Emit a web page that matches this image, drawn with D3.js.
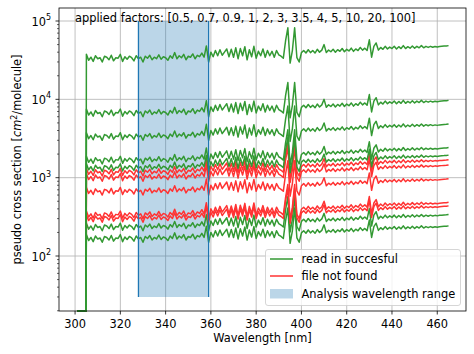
<!DOCTYPE html>
<html><head><meta charset="utf-8">
<script src="https://cdn.jsdelivr.net/npm/d3@7/dist/d3.min.js"></script>
<style>body{margin:0;background:#fff}svg{display:block}text{font-family:"DejaVu Sans",sans-serif}</style>
</head><body>
<script>
// ---- data ----
const factors = [0.5, 0.7, 0.9, 1, 2, 3, 3.5, 4, 5, 10, 20, 100];
const statuses = ["ok","ok","missing","missing","missing","missing","missing","ok","ok","ok","ok","ok"];
const legendLabels = ["read in succesful", "file not found", "Analysis wavelength range"];
const xTicks = [300, 320, 340, 360, 380, 400, 420, 440, 460];
const yTicks = [100, 1000, 10000, 100000];
const analysisRange = [328, 359];
const analysisY = [30, 100000];
const wavelengths = [301, 302, 303, 304, 304.8].concat(d3.range(305, 466));
const baseSpectrum = [
  0.01, 0.01, 0.01, 0.01, 0.02,
  // 305-344
  375, 315, 345, 305, 360, 330, 340, 300, 355, 345,
  320, 365, 310, 340, 335, 375, 305, 350, 325, 355,
  340, 310, 360, 330, 345, 300, 355, 335, 365, 320,
  345, 330, 370, 325, 350, 340, 315, 360, 335, 395,
  // 345-384
  330, 360, 340, 375, 320, 355, 345, 380, 330, 365,
  350, 390, 345, 480, 300, 400, 350, 420, 360, 430,
  365, 400, 440, 350, 435, 345, 455, 330, 445, 360,
  470, 320, 430, 350, 475, 335, 410, 360, 440, 345,
  // 385-424
  420, 360, 410, 345, 420, 370, 355, 335, 560, 820,
  290, 420, 820, 340, 300, 395, 420, 390, 430, 395,
  420, 390, 435, 400, 425, 500, 395, 425, 405, 435,
  400, 430, 410, 445, 405, 435, 415, 450, 410, 440,
  // 425-465
  420, 460, 425, 450, 420, 575, 345, 475, 525, 425,
  460, 435, 475, 440, 465, 445, 475, 440, 470, 445,
  485, 445, 470, 450, 480, 450, 475, 455, 485, 455,
  475, 460, 475, 462, 472, 465, 472, 475, 478, 480,
  485
];

// ---- chart ----
const W = 474, H = 354;
const L = 59, R = 466, T = 8, B = 311;
const FS = 11.4;
const GREEN = "rgb(51,153,51)", RED = "rgb(255,51,51)", SPAN = "#1f77b4";
const svg = d3.select("body").append("svg").attr("width", W).attr("height", H);
const x = d3.scaleLinear().domain([292.9, 472.7]).range([L, R]);
const y = d3.scaleLog().domain([Math.pow(10, 1.298), Math.pow(10, 5.166)]).range([B, T]).clamp(true);

// grid
const grid = svg.append("g").attr("stroke", "#b0b0b0").attr("stroke-width", 0.8);
xTicks.forEach(t => grid.append("line").attr("x1", x(t)).attr("x2", x(t)).attr("y1", T).attr("y2", B));
yTicks.forEach(t => grid.append("line").attr("x1", L).attr("x2", R).attr("y1", y(t)).attr("y2", y(t)));

// analysis span fill (as a path, below the spectra)
const sx0 = x(analysisRange[0]), sx1 = x(analysisRange[1]);
const sy0 = y(analysisY[0]), sy1 = y(analysisY[1]);
svg.append("path")
  .attr("d", `M${sx0},${sy1}H${sx1}V${sy0}H${sx0}Z`)
  .attr("fill", SPAN).attr("fill-opacity", 0.3).attr("stroke", "none");

// spectra
const lineGen = d3.line().x(d => x(d[0])).y(d => y(d[1]));
factors.forEach((f, i) => {
  const pts = wavelengths.map((w, j) => [w, baseSpectrum[j] * f]);
  svg.append("path").attr("d", lineGen(pts)).attr("fill", "none")
    .attr("stroke", statuses[i] === "ok" ? GREEN : RED)
    .attr("stroke-width", 1.5).attr("stroke-linejoin", "round");
});

// span edges
analysisRange.forEach(v => svg.append("line")
  .attr("x1", x(v)).attr("x2", x(v)).attr("y1", sy1).attr("y2", sy0)
  .attr("stroke", SPAN).attr("stroke-width", 1.3));

// frame
svg.append("rect").attr("x", L).attr("y", T).attr("width", R - L).attr("height", B - T)
  .attr("fill", "none").attr("stroke", "#000").attr("stroke-width", 0.8);

// x axis ticks
const ax = svg.append("g");
xTicks.forEach(t => {
  ax.append("line").attr("x1", x(t)).attr("x2", x(t)).attr("y1", B).attr("y2", B + 3.5)
    .attr("stroke", "#000").attr("stroke-width", 0.8);
  ax.append("text").attr("x", x(t)).attr("y", B + 16.5).attr("text-anchor", "middle")
    .attr("font-size", FS).text(t);
});
// y axis ticks
const ay = svg.append("g");
yTicks.forEach(t => {
  ay.append("line").attr("x1", L - 3.5).attr("x2", L).attr("y1", y(t)).attr("y2", y(t))
    .attr("stroke", "#000").attr("stroke-width", 0.8);
  const tx = ay.append("text").attr("x", L - 8).attr("y", y(t) + 4.5).attr("text-anchor", "end")
    .attr("font-size", FS);
  tx.append("tspan").text("10");
  tx.append("tspan").attr("dy", -5.5).attr("font-size", 8).text(Math.round(Math.log10(t)));
});
const [y0, y1] = y.domain();
for (let e = Math.floor(Math.log10(y0)); e <= Math.ceil(Math.log10(y1)); e++) {
  for (let m = 2; m <= 9; m++) {
    const v = m * Math.pow(10, e);
    if (v < y0 || v > y1) continue;
    ay.append("line").attr("x1", L - 2).attr("x2", L).attr("y1", y(v)).attr("y2", y(v))
      .attr("stroke", "#000").attr("stroke-width", 0.6);
  }
}

// labels
svg.append("text").attr("x", (L + R) / 2).attr("y", 342).attr("text-anchor", "middle")
  .attr("font-size", FS).text("Wavelength [nm]");
const yl = svg.append("text").attr("transform", `translate(21,${(T + B) / 2}) rotate(-90)`)
  .attr("text-anchor", "middle").attr("font-size", FS);
yl.append("tspan").text("pseudo cross section [");
yl.append("tspan").attr("font-style", "italic").text("cm");
yl.append("tspan").attr("dy", -4.5).attr("font-size", 8).text("2");
yl.append("tspan").attr("dy", 4.5).text("/molecule]");

svg.append("text").attr("x", 75).attr("y", 22).attr("font-size", FS)
  .text("applied factors: [" + factors.join(", ") + "]");

// legend
const lg = svg.append("g");
lg.append("rect").attr("x", 265.5).attr("y", 249.5).attr("width", 195).attr("height", 56)
  .attr("rx", 2.5).attr("fill", "#fff").attr("fill-opacity", 0.8)
  .attr("stroke", "#cccccc").attr("stroke-width", 0.8);
const ly = [259, 276, 293.5];
lg.append("line").attr("x1", 270).attr("x2", 293).attr("y1", ly[0]).attr("y2", ly[0])
  .attr("stroke", GREEN).attr("stroke-width", 1.5);
lg.append("line").attr("x1", 270).attr("x2", 293).attr("y1", ly[1]).attr("y2", ly[1])
  .attr("stroke", RED).attr("stroke-width", 1.5);
lg.append("rect").attr("x", 270).attr("y", ly[2] - 4.5).attr("width", 23).attr("height", 9.5)
  .attr("fill", SPAN).attr("fill-opacity", 0.3);
legendLabels.forEach((t, i) => lg.append("text").attr("x", 301.5).attr("y", ly[i] + 4)
  .attr("font-size", FS).text(t));
</script>
</body></html>
